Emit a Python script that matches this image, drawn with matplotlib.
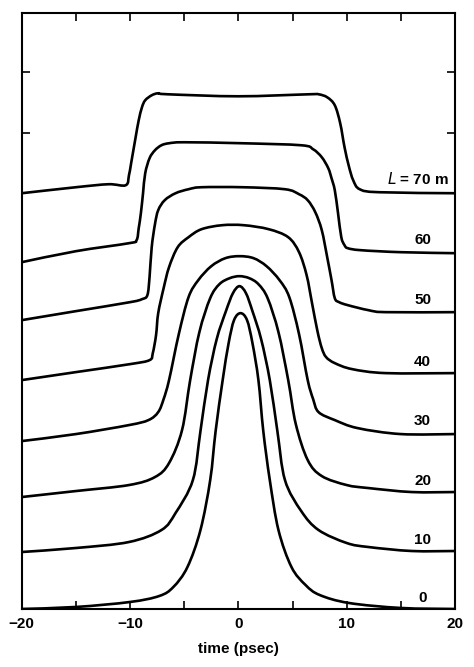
import matplotlib
matplotlib.use("Agg")
import matplotlib.pyplot as plt
from matplotlib.path import Path
from matplotlib.patches import PathPatch

plt.rcParams['font.family'] = ['Liberation Sans', 'DejaVu Sans']

lengths = [0, 10, 20, 30, 40, 50, 60, 70]
offsets = [0, 58, 117, 175, 236, 297, 356, 416]
labels = ["0", "10", "20", "30", "40", "50", "60", r"$\mathit{L}$ = 70 m"]

t0 = [-20, -15, -10, -7.3, -6, -4.7, -3.5, -2.6, -2.1, -1.45, -0.9, -0.4, 0.2, 0.8, 1.3, 1.85, 2.3, 2.9, 3.7, 4.9, 6.2, 7.5, 10.2, 15, 20]
a0 = [0, 2, 7, 13, 22, 42, 79, 129, 178, 229, 266, 289, 296, 289, 266, 229, 178, 129, 79, 42, 24, 14, 6, 1, 0]

t10 = [-20, -15, -10.1, -7.1, -5.8, -4.2, -3.5, -2.8, -2.0, -1.15, -0.5, 0.1, 0.7, 1.3, 2.1, 2.9, 3.6, 4.3, 5.8, 7.4, 10, 12, 16, 20]
a10 = [-1, 3, 9, 21, 38, 71, 120, 171, 212, 240, 258, 265, 258, 240, 212, 171, 120, 71, 40, 21, 8, 4, 0, 0]

t20 = [-20, -15, -10.1, -7.7, -6.4, -5.2, -4.45, -3.6, -2.6, -1.75, -0.8, 0.1, 1.0, 1.85, 2.7, 3.7, 4.6, 5.3, 6.4, 7.7, 10, 12, 16, 20]
a20 = [-5, 1, 7, 15, 29, 62, 112, 160, 194, 208, 214, 216, 214, 208, 194, 160, 112, 68, 32, 16, 7, 4, 0, 0]

t30 = [-20, -15, -10.1, -8.3, -7.4, -6.9, -6.4, -5.5, -4.6, -3.7, -2.5, -1.2, 0.1, 1.4, 2.6, 3.8, 4.7, 5.6, 6.4, 6.9, 7.4, 8.9, 11, 15, 20]
a30 = [-7, 0, 9, 14, 22, 35, 54, 100, 137, 154, 168, 176, 178, 176, 168, 154, 137, 100, 54, 35, 22, 14, 6, 0, 0]

t40 = [-20, -15, -10, -8.2, -7.9, -7.6, -7.4, -6.9, -6.4, -5.6, -4.6, -3.4, -1.5, 0.5, 2.8, 4.6, 5.6, 6.3, 6.8, 7.3, 7.7, 8.1, 8.9, 10.5, 13.6, 20]
a40 = [-7, 1, 9, 13, 20, 38, 60, 85, 106, 126, 136, 144, 148, 148, 144, 136, 121, 98, 70, 42, 25, 16, 10, 4, 0, 0]

t50 = [-20, -15, -10, -8.9, -8.4, -8.2, -8.0, -7.7, -7.4, -6.8, -5.8, -4.6, -3.4, 0.4, 4.3, 5.6, 6.4, 7.1, 7.7, 8.2, 8.6, 8.9, 9.3, 10.1, 12, 13.6, 20]
a50 = [-8, 1, 10, 13, 17, 35, 65, 88, 102, 112, 119, 123, 125, 125, 123, 118, 112, 100, 82, 55, 32, 14, 10, 7, 2, 0, 0]

t60 = [-20, -15, -10.1, -9.4, -9.2, -9.0, -8.8, -8.6, -8.2, -7.7, -7.1, -6.4, -5.0, 0.4, 5.8, 6.9, 7.7, 8.3, 8.6, 8.9, 9.2, 9.5, 9.8, 10.1, 11.3, 15, 20]
a60 = [-9, 2, 10, 13, 25, 40, 60, 80, 95, 103, 108, 110, 111, 110, 108, 104, 96, 85, 75, 63, 40, 16, 8, 5, 3, 1, 0]

t70 = [-20, -15, -12, -10.4, -10.1, -9.9, -9.5, -9.2, -8.9, -8.6, -8.0, -7.4, -6.5, 0.0, 6.5, 7.4, 8.2, 8.9, 9.4, 9.8, 10.2, 10.6, 11.2, 13, 20]
a70 = [0, 6, 9, 8, 18, 30, 55, 73, 86, 93, 98, 100, 99, 97, 99, 99, 96, 88, 70, 46, 27, 13, 4, 1, 0]

times = [t0, t10, t20, t30, t40, t50, t60, t70]
amps = [a0, a10, a20, a30, a40, a50, a60, a70]


def smooth_path(xs, ys, k=1.0 / 6.0):
    # Catmull-Rom spline through the given points, expressed as cubic Bezier segments
    pts = list(zip(xs, ys))
    verts = [pts[0]]
    codes = [Path.MOVETO]
    n = len(pts)
    for i in range(n - 1):
        p0 = pts[i - 1] if i > 0 else pts[i]
        p1 = pts[i]
        p2 = pts[i + 1]
        p3 = pts[i + 2] if i + 2 < n else pts[i + 1]
        c1 = (p1[0] + (p2[0] - p0[0]) * k, p1[1] + (p2[1] - p0[1]) * k)
        c2 = (p2[0] - (p3[0] - p1[0]) * k, p2[1] - (p3[1] - p1[1]) * k)
        verts += [c1, c2, p2]
        codes += [Path.CURVE4] * 3
    return Path(verts, codes)


fig = plt.figure(figsize=(4.74, 6.67), dpi=100)
ax = fig.add_axes([0.0458, 0.087, 0.9142, 0.893])

for t, a, off in zip(times, amps, offsets):
    p = smooth_path(t, [v + off for v in a])
    ax.add_patch(PathPatch(p, facecolor='none', edgecolor='black', lw=1.9,
                           joinstyle='round', capstyle='round'))

label_y = [11, 69, 128, 188, 247, 309, 369, 430]
for lab, ly, L in zip(labels, label_y, lengths):
    xpos = 17.0 if L < 70 else 16.6
    ax.text(xpos, ly, lab, ha='center', va='center', fontsize=11, fontweight='bold')

ax.set_xlim(-20, 20)
ax.set_ylim(0, 596)
ax.set_xticks([-20, -10, 0, 10, 20])
ax.set_xticks([-15, -5, 5, 15], minor=True)
ax.set_yticks([476, 537])
ax.set_yticklabels([])
ax.tick_params(axis='both', which='both', direction='in', top=True, right=True,
               length=6, width=1.2, labelsize=11, pad=6)
ax.set_xticklabels(['\u221220', '\u221210', '0', '10', '20'], fontweight='bold')
ax.set_xlabel('time (psec)', fontsize=11, fontweight='bold', labelpad=8)
for s in ax.spines.values():
    s.set_linewidth(1.5)

fig.savefig('out.png', dpi=100)
